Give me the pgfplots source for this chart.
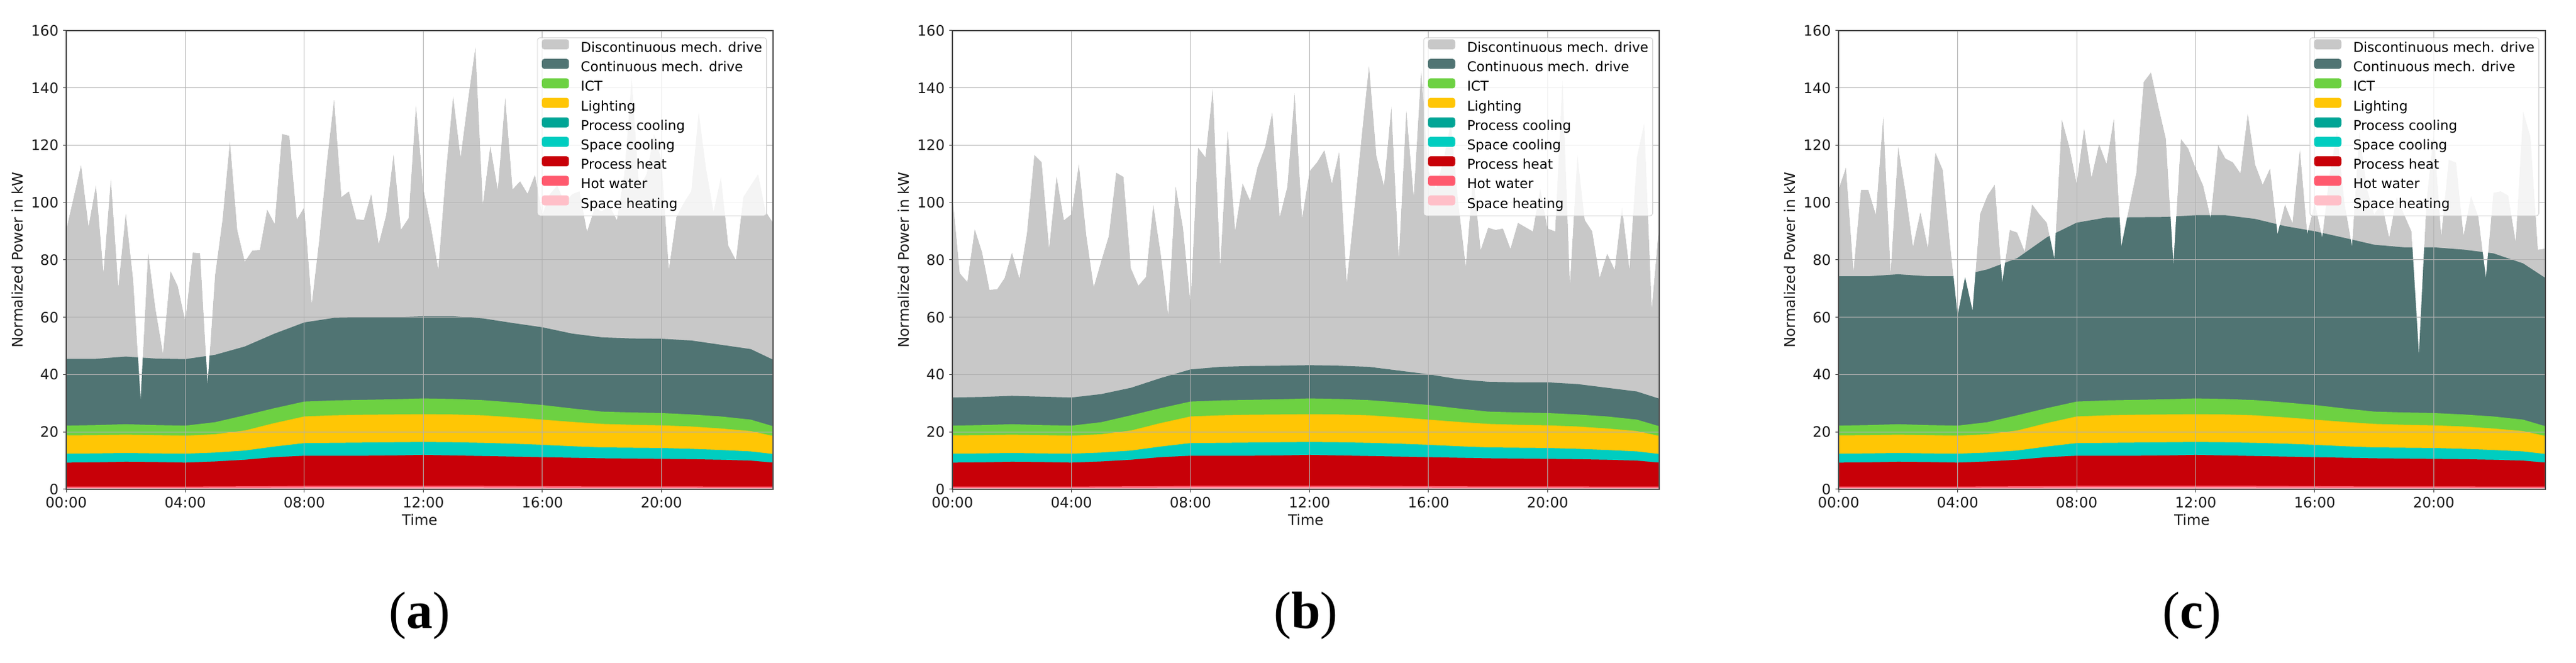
\documentclass[border=0pt]{standalone}
\usepackage{fontspec}
\setmainfont{DejaVu Sans}
\newfontfamily\seriffont{Liberation Serif}
\usepackage{pgfplots}
\usepackage{pgfplotstable}
\pgfplotsset{compat=1.18}

\definecolor{cdis}{HTML}{C8C8C8}
\definecolor{ccont}{HTML}{507473}
\definecolor{cict}{HTML}{6DD142}
\definecolor{clight}{HTML}{FFC605}
\definecolor{cpcool}{HTML}{00A596}
\definecolor{cscool}{HTML}{00CDC0}
\definecolor{cpheat}{HTML}{C80008}
\definecolor{chw}{HTML}{FF5A6E}
\definecolor{csh}{HTML}{FFBFC8}
\definecolor{cgrid}{HTML}{B0B0B0}

% total (top of discontinuous mech. drive) for panels a, b, c
\pgfplotstableread{
t a b c
0 90.7 103 104.7
0.25 102 75.4 112.4
0.5 113.3 72.4 76.3
0.75 91.9 90.9 104.5
1 106.3 82.7 104.5
1.25 76 69.6 96
1.5 108.6 69.8 130.5
1.75 70.9 73.7 75.8
2 96.6 82.7 119.7
2.25 73.2 73.7 103.8
2.5 31.5 89.2 84.9
2.75 83 116.7 96.9
3 63 114.1 84.4
3.25 47.6 84.4 117.6
3.5 76.3 109.4 111.5
3.75 70.9 93.9 85.3
4 58.8 96 60.8
4.25 82.6 113.7 74.1
4.5 82.4 88.7 62.5
4.75 37 70.7 96
5 74.8 79.7 102.5
5.25 94.2 88.3 106.4
5.5 121.9 110.5 72.4
5.75 90.4 109 90.5
6 79.5 77.1 89.6
6.25 83.3 71.1 83.1
6.5 83.5 74.1 99.5
6.75 97.7 99.5 96
7 92.7 82.3 93
7.25 124 61.2 80.6
7.5 123.3 106 129.2
7.75 94.2 91.3 119.7
8 98.5 65.1 106.8
8.25 65 119.3 126.2
8.5 87.2 115.9 109
8.75 113.7 140 120.6
9 136.3 78.4 113.7
9.25 102 125.7 129.6
9.5 104 90.5 84.9
9.75 94.2 106.8 97.8
10 94 100.8 110.3
10.25 103.2 112.4 142.1
10.5 85.7 119.3 145.5
10.75 95.8 131.8 133.5
11 117.2 95.2 122.3
11.25 90.7 105.5 78.8
11.5 94.6 138.7 122.3
11.75 134.3 94.8 118.9
12 105 111 112
12.25 92 114.1 106
12.5 77 118.4 94.8
12.75 110 106.8 120.2
13 137.4 118 115.4
13.25 116 72.4 114.1
13.5 136 97.3 110.3
13.75 154.6 123.2 131.3
14 99.7 148.1 113.3
14.25 120 116.3 106.4
14.5 104.7 106 112
14.75 137 133.9 89.2
15 104.7 81 99.5
15.25 107.5 132.6 93
15.5 103.2 102.5 118.9
15.75 109.8 146.4 89.2
16 96 111 100
16.25 103 105 88
16.5 106 115 110
16.75 100 128 125
17 103 100 100
17.25 104 78 85
17.5 90 110 125
17.75 98 83.6 105
18 97 91.3 96
18.25 99 90.5 100
18.5 94 91 88
18.75 110 84 102
19 144 93 96
19.25 105 91.5 90
19.5 110 90 47.5
19.75 124 105 100
20 115 91 125
20.25 77 90 88.7
20.5 95 143.8 115
20.75 100 72 114
21 104 117 88.7
21.25 132 94 102.5
21.5 112 90 95
21.75 97 74 74
22 109 82.3 103.4
22.25 85 76.7 104
22.5 80 98.6 102.5
22.75 102 77 86.6
23 106 116 132
23.25 110 128 123
23.5 97 63.4 83.6
23.75 93 93 84
}\totaltab

% cumulative tops of the smooth layers; ca, cb, cc = continuous mech. drive top in a, b, c
\pgfplotstableread{
t hs hw ph sc li ict ca cb cc
0 0.45 0.95 9.3 12.4 18.8 22.2 45.5 32.0 74.3
1 0.45 0.95 9.4 12.5 18.9 22.4 45.5 32.2 74.3
2 0.45 0.95 9.6 12.65 19.05 22.7 46.3 32.6 75.0
3 0.45 0.95 9.5 12.5 18.9 22.4 45.6 32.3 74.3
4 0.45 0.95 9.3 12.4 18.7 22.2 45.4 32.0 74.3
5 0.5 1.0 9.7 12.8 19.2 23.4 46.9 33.2 76.7
6 0.5 1.05 10.3 13.5 20.5 25.8 49.8 35.4 80.6
7 0.55 1.1 11.2 14.9 23.1 28.3 54.3 38.8 87.9
8 0.6 1.2 11.7 16.1 25.4 30.6 58.2 41.8 93.0
9 0.6 1.2 11.7 16.2 25.8 31.0 59.8 42.7 94.8
10 0.6 1.2 11.7 16.3 26.0 31.2 60.0 43.0 94.9
11 0.6 1.2 11.8 16.4 26.1 31.4 60.0 43.1 95.0
12 0.6 1.2 12.0 16.5 26.2 31.7 60.4 43.3 95.6
13 0.6 1.2 11.8 16.4 26.1 31.5 60.4 43.1 95.6
14 0.6 1.2 11.6 16.2 25.8 31.1 59.6 42.7 94.3
15 0.55 1.15 11.4 15.9 25.1 30.3 58.0 41.4 91.8
16 0.55 1.1 11.2 15.5 24.3 29.4 56.5 40.1 90.0
17 0.5 1.05 11.0 15.0 23.5 28.2 54.3 38.4 87.7
18 0.5 1.0 10.8 14.6 22.8 27.1 53.0 37.5 85.3
19 0.5 1.0 10.7 14.5 22.5 26.8 52.6 37.3 84.4
20 0.5 1.0 10.6 14.4 22.3 26.6 52.5 37.3 84.4
21 0.5 1.0 10.5 14.1 21.9 26.1 51.9 36.7 83.6
22 0.45 0.95 10.3 13.7 21.2 25.4 50.4 35.4 82.3
23 0.45 0.95 10.0 13.2 20.3 24.3 48.9 34.1 78.8
23.75 0.45 0.95 9.3 12.3 18.6 22.0 45.2 31.6 73.7
}\basetab

\pgfplotsset{
  panel/.style={
    scale only axis, width=565.5pt, height=367pt,
    xmin=0, xmax=23.75, ymin=0, ymax=160,
    xtick={0,4,8,12,16,20},
    xticklabels={00:00,04:00,08:00,12:00,16:00,20:00},
    ytick={0,20,...,160},
    grid=major,
    grid style={color=cgrid, line width=0.5pt},
    axis on top,
    tick align=outside, tick pos=left,
    major tick length=2.6pt,
    tick style={black!80, line width=0.5pt},
    axis line style={black!70, line width=0.6pt},
    /pgf/number format/assume math mode=true,
    ticklabel style={font=\fontsize{11.5}{13}\selectfont, text=black!90},
    xlabel={Time}, ylabel={Normalized Power in kW},
    label style={font=\fontsize{11.6}{13}\selectfont, text=black!90},
    xlabel style={at={([yshift=-24.5pt]axis description cs:0.5,0)}, anchor=center},
    ylabel style={at={([xshift=-39pt]axis description cs:0,0.5)}, anchor=center},
    legend cell align=left,
    legend image code/.code={\fill[##1, fill opacity=1, draw=none] (0pt,-0.5pt) rectangle (21.7pt,7.5pt);},
    legend style={at={(1,1)}, anchor=north east, xshift=-5pt, yshift=-5.5pt,
      fill=white, fill opacity=0.8, text opacity=1,
      draw=black!20, rounded corners=2pt,
      inner xsep=3.5pt, inner ysep=1pt,
      font=\fontsize{10.8}{12}\selectfont,
      nodes={inner xsep=0pt, inner ysep=2.55pt, text height=8pt, text depth=2.5pt},
      row sep=0pt,
      /tikz/every odd column/.append style={column sep=9.5pt}},
  }
}

\newcommand{\panel}[3]{%
\begin{axis}[panel, at={(#1,138.5pt)}, anchor=south west]
\addplot[fill=cdis, draw=none] table[x=t, y=#2] {\totaltab} \closedcycle;
\addlegendentry{Discontinuous mech. drive}
\addplot[fill=ccont, draw=none] table[x=t, y=#3] {\basetab} \closedcycle;
\addlegendentry{Continuous mech. drive}
\addplot[fill=cict, draw=none] table[x=t, y=ict] {\basetab} \closedcycle;
\addlegendentry{ICT}
\addplot[fill=clight, draw=none] table[x=t, y=li] {\basetab} \closedcycle;
\addlegendentry{Lighting}
\addlegendimage{fill=cpcool, draw=none}
\addlegendentry{Process cooling}
\addplot[fill=cscool, draw=none] table[x=t, y=sc] {\basetab} \closedcycle;
\addlegendentry{Space cooling}
\addplot[fill=cpheat, draw=none] table[x=t, y=ph] {\basetab} \closedcycle;
\addlegendentry{Process heat}
\addplot[fill=chw, draw=none] table[x=t, y=hw] {\basetab} \closedcycle;
\addlegendentry{Hot water}
\addplot[fill=csh, draw=none] table[x=t, y=hs] {\basetab} \closedcycle;
\addlegendentry{Space heating}
\addplot[fill=white, draw=none, forget plot] table[x=t, y=#2] {\totaltab}
  -- (axis cs:23.75,170) -- (axis cs:0,170) -- cycle;
\end{axis}}

\begin{document}
\begin{tikzpicture}
\useasboundingbox (0,0) rectangle (2061pt,530pt);
\panel{53pt}{a}{ca}
\panel{762pt}{b}{cb}
\panel{1471pt}{c}{cc}
\node[font=\seriffont\fontsize{42}{48}\selectfont] at (335.75pt,37.5pt) {({\bfseries a})};
\node[font=\seriffont\fontsize{42}{48}\selectfont] at (1044.75pt,37.5pt) {({\bfseries b})};
\node[font=\seriffont\fontsize{42}{48}\selectfont] at (1753.75pt,37.5pt) {({\bfseries c})};
\end{tikzpicture}
\end{document}
